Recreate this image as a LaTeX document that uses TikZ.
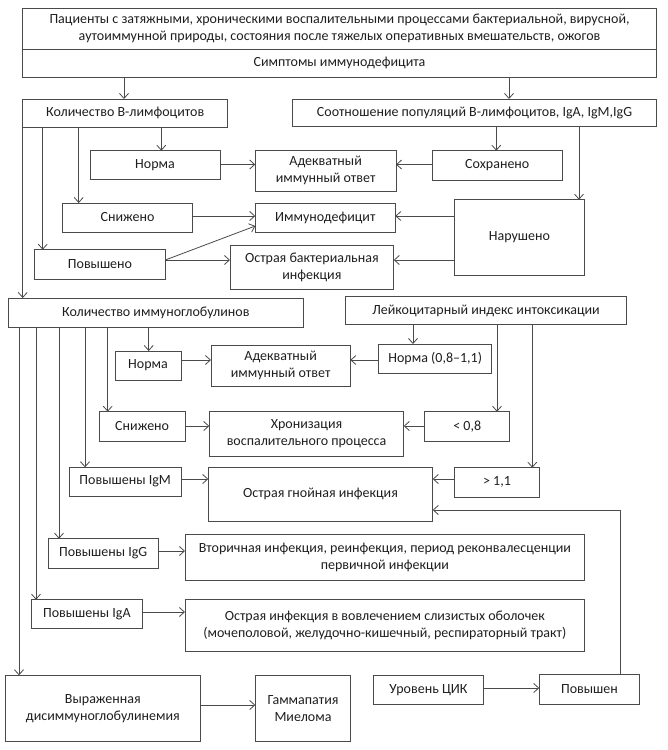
\documentclass[tikz,border=0pt]{standalone}
\usepackage{fontspec}
\setmainfont{Carlito}
\usetikzlibrary{arrows.meta,calc}
\definecolor{ln}{HTML}{4A4A4A}
\definecolor{tx}{HTML}{1E1E1E}
\tikzset{
  box/.style={draw=ln,line width=0.9pt,inner sep=0pt,outer sep=0pt,align=center,
    text=tx,font=\fontsize{14}{17}\selectfont},
  arr/.style={draw=ln,line width=0.8pt,-{Straight Barb[length=5pt,width=9pt,line width=0.8pt]}},
  ln/.style={draw=ln,line width=0.8pt}
}
\newcommand\bx[6]{\node[box,minimum width={(#4-#2)*1pt},minimum height={(#5-#3)*1pt}] (#1) at ({(#2+#4)/2},{(#3+#5)/2}) {#6};}
\begin{document}
\begin{tikzpicture}[x=1pt,y=-1pt]
\useasboundingbox (0,0) rectangle (667,750);
\bx{top}{22.7}{8}{656.3}{49}{Пациенты с затяжными, хроническими воспалительными процессами бактериальной, вирусной,\\аутоиммунной природы, состояния после тяжелых оперативных вмешательств, ожогов}
\bx{symp}{22.7}{49}{656.3}{77}{Симптомы иммунодефицита}
\bx{kolB}{22.7}{99}{227.7}{127}{Количество В-лимфоцитов}
\bx{sootn}{292.7}{99}{656.3}{126}{Соотношение популяций В-лимфоцитов, IgA, IgM,IgG}
\bx{normaB}{90}{150.7}{220}{179.3}{Норма}
\bx{adek1}{255.3}{150.7}{396}{191}{Адекватный\\иммунный ответ}
\bx{sohr}{432.3}{150.7}{562.3}{180}{Сохранено}
\bx{snizB}{62.3}{203}{192.7}{232}{Снижено}
\bx{immdef}{255.3}{203}{395.3}{232}{Иммунодефицит}
\bx{narush}{454}{199.7}{584.7}{275}{Нарушено}
\bx{povB}{34.7}{249.7}{165.3}{279}{Повышено}
\bx{ostrB}{230}{245.3}{393.7}{289}{Острая бактериальная\\инфекция}
\bx{kolIg}{8.3}{298}{303.3}{327}{Количество иммуноглобулинов}
\bx{leiko}{345.3}{296.3}{626.7}{324.7}{Лейкоцитарный индекс интоксикации}
\bx{norma2}{115}{351}{181}{380}{Норма}
\bx{adek2}{211}{345.3}{350.3}{386}{Адекватный\\иммунный ответ}
\bx{norma3}{378.7}{344}{491.7}{373}{Норма (0,8–1,1)}
\bx{sniz2}{99.3}{411.7}{185}{441}{Снижено}
\bx{hron}{209.3}{411.7}{403.7}{456.3}{Хронизация\\воспалительного процесса}
\bx{lt}{424.7}{411.7}{509.7}{441}{< 0,8}
\bx{igm}{69.3}{467.3}{181}{496}{Повышены IgM}
\bx{gnoi}{208.3}{467.3}{432.7}{521}{Острая гнойная инфекция}
\bx{gt}{454.3}{467.7}{539.7}{497}{> 1,1}
\bx{igg}{48.3}{538.7}{158}{568}{Повышены IgG}
\bx{vtor}{185}{534.5}{584.7}{580.3}{Вторичная инфекция, реинфекция, период реконвалесценции\\первичной инфекции}
\bx{iga}{31}{599.7}{142.7}{628.7}{Повышены IgA}
\bx{ostrI}{185}{599.3}{584.7}{651}{Острая инфекция в вовлечением слизистых оболочек\\(мочеполовой, желудочно-кишечный, респираторный тракт)}
\bx{vyr}{5}{675.3}{200.7}{741.3}{Выраженная\\дисиммуноглобулинемия}
\bx{gamma}{255.3}{675.3}{350.7}{741.3}{Гаммапатия\\Миелома}
\bx{cik}{373.3}{675.3}{483.7}{704.7}{Уровень ЦИК}
\bx{povC}{539.3}{674.3}{639.7}{704}{Повышен}
% connectors
\draw[arr] (124,0 |- symp.south) -- (124,0 |- kolB.north);
\draw[arr] (509,0 |- symp.south) -- (509,0 |- sootn.north);
\draw[arr] (161.3,0 |- kolB.south) -- (161.3,0 |- normaB.north);
\draw[arr] (78.7,0 |- kolB.south) -- (78.7,0 |- snizB.north);
\draw[arr] (42.7,0 |- kolB.south) -- (42.7,0 |- povB.north);
\draw[arr] (kolB.south west) -- (kolB.south west |- kolIg.north);
\draw[arr] (normaB.east |- 0,164.5) -- (adek1.west |- 0,164.5);
\draw[arr] (sohr.west |- 0,164.5) -- (adek1.east |- 0,164.5);
\draw[arr] (496.3,0 |- sootn.south) -- (496.3,0 |- sohr.north);
\draw[arr] (579,0 |- sootn.south) -- (579,0 |- narush.north);
\draw[arr] (snizB.east |- 0,216) -- (immdef.west |- 0,216);
\draw[arr] (narush.west |- 0,216) -- (immdef.east |- 0,216);
\draw[arr] (povB.east |- 0,260) -- (immdef.west |- 0,226);
\draw[arr] (povB.east |- 0,260) -- (ostrB.west |- 0,260);
\draw[arr] (narush.west |- 0,260) -- (ostrB.east |- 0,260);
\draw[arr] (148.7,0 |- kolIg.south) -- (148.7,0 |- norma2.north);
\draw[arr] (107.7,0 |- kolIg.south) -- (107.7,0 |- sniz2.north);
\draw[arr] (85,0 |- kolIg.south) -- (85,0 |- igm.north);
\draw[arr] (59,0 |- kolIg.south) -- (59,0 |- igg.north);
\draw[arr] (36,0 |- kolIg.south) -- (36,0 |- iga.north);
\draw[arr] (19,0 |- kolIg.south) -- (19,0 |- vyr.north);
\draw[arr] (norma2.east |- 0,360) -- (adek2.west |- 0,360);
\draw[arr] (norma3.west |- 0,360) -- (adek2.east |- 0,360);
\draw[arr] (413,0 |- leiko.south) -- (413,0 |- norma3.north);
\draw[arr] (497,0 |- leiko.south) -- (497,0 |- lt.north);
\draw[arr] (532.3,0 |- leiko.south) -- (532.3,0 |- gt.north);
\draw[arr] (sniz2.east |- 0,426) -- (hron.west |- 0,426);
\draw[arr] (lt.west |- 0,426) -- (hron.east |- 0,426);
\draw[arr] (igm.east |- 0,479) -- (gnoi.west |- 0,479);
\draw[arr] (gt.west |- 0,479) -- (gnoi.east |- 0,479);
\draw[arr] (620.3,0 |- povC.north) -- (620.3,510) -- (gnoi.east |- 0,510);
\draw[arr] (igg.east |- 0,551) -- (vtor.west |- 0,551);
\draw[arr] (iga.east |- 0,612) -- (ostrI.west |- 0,612);
\draw[arr] (vyr.east |- 0,705) -- (gamma.west |- 0,705);
\draw[arr] (cik.east |- 0,688) -- (povC.west |- 0,688);
\end{tikzpicture}
\end{document}
